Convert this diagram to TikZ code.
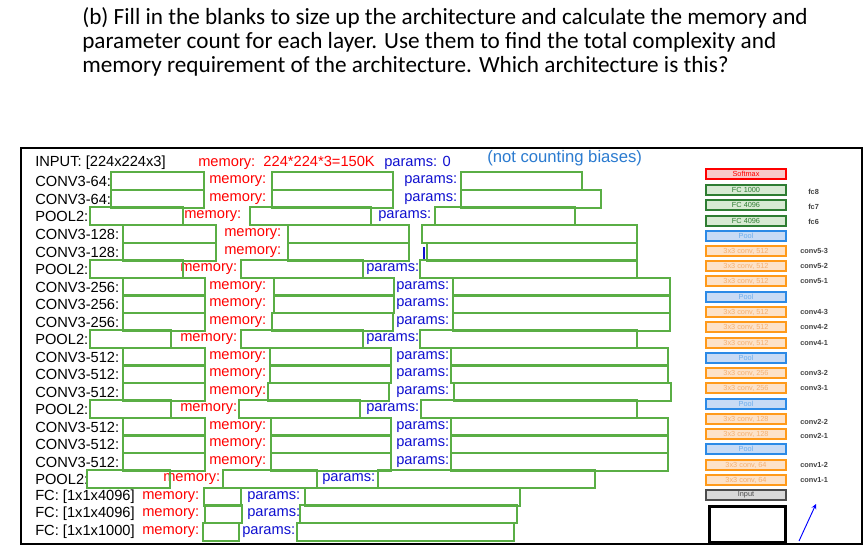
\documentclass[tikz,border=0pt]{standalone}
\usepackage{fontspec}
\setmainfont{Liberation Sans}
\newfontfamily\titlefont{Carlito}
\definecolor{memred}{HTML}{FF0000}
\definecolor{parblue}{HTML}{1010D0}
\definecolor{notblue}{HTML}{2B7BD0}
\definecolor{boxgreen}{HTML}{5AAE45}
\definecolor{convfill}{HTML}{FDE2C8}
\definecolor{convline}{HTML}{FF9A1A}
\definecolor{convtext}{HTML}{F5B070}
\definecolor{poolfill}{HTML}{C8DBF5}
\definecolor{poolline}{HTML}{2C8AE6}
\definecolor{fcfill}{HTML}{D8EAD3}
\definecolor{fcline}{HTML}{2E7D32}
\definecolor{smfill}{HTML}{F8CACA}
\definecolor{inpfill}{HTML}{D9D9D9}
\tikzset{
 lbl/.style={anchor=west,inner sep=0pt,font=\fontsize{11pt}{12pt}\selectfont},
 mem/.style={lbl,text=memred},
 par/.style={lbl,text=parblue},
 blank/.style={draw=boxgreen,line width=0.9pt},
 blk/.style={rectangle,minimum width=60pt,minimum height=8pt,inner sep=0pt,line width=1.3pt,font=\fontsize{5.5pt}{6pt}\selectfont},
 convb/.style={blk,draw=convline,fill=convfill,text=convtext},
 poolb/.style={blk,draw=poolline,fill=poolfill,text=poolline!70},
 fcb/.style={blk,draw=fcline,fill=fcfill,text=fcline},
 smb/.style={blk,draw=red,fill=smfill,text=red},
 inb/.style={blk,draw=black!70,fill=inpfill,text=black!70},
 side/.style={anchor=west,inner sep=0pt,font=\bfseries\fontsize{5.5pt}{6pt}\selectfont,text=black!75}
}
\newcommand{\bx}[3]{\draw[blank] (#1,#3-9) rectangle (#2,#3+9);}
\begin{document}
\begin{tikzpicture}[x=0.75pt,y=-0.75pt]
\useasboundingbox (0,0) rectangle (867,556);
\fill[white] (0,0) rectangle (867,556);
% title
\node[anchor=north west,inner sep=0pt,align=left,font=\titlefont\fontsize{17.4pt}{18pt}\selectfont] (title) at (82,7)
 {(b) Fill in the blanks to size up the architecture and calculate the memory and\\
  parameter count for each layer. Use them to find the total complexity and\\
  memory requirement of the architecture. Which architecture is this?};
% frame
\draw[line width=2.2pt] (21,148) rectangle (862,544);
% row 0
\node[lbl] (t0) at (35,163) {INPUT: [224x224x3]};
\node[mem] (m0) at (198,163) {memory:\ \ 224*224*3=150K};
\node[par] (p0) at (384,163) {params: 0};
\node[lbl,text=notblue,font=\fontsize{12.5pt}{14pt}\selectfont] (nc) at (487,158) {(not counting biases)};
% row 1,2
\foreach \y/\r in {181/601,199/601}{
 \node[lbl] at (35,\y) {CONV3-64:};
 \bx{111}{204}{\y}
 \node[mem] at (209,\y) {memory:};
 \bx{272}{393}{\y}
 \node[par] at (404,\y) {params:};
}
\bx{461}{582}{181}
\bx{461}{601}{199}
% row 3 pool
\node[lbl] (t3) at (35,216) {POOL2:};
\node[mem] (m3) at (184,216) {memory:};
\bx{90}{183}{216}
\bx{250}{371}{216}
\node[par] (p3) at (378,216) {params:};
\bx{435}{575}{216}
% rows 4,5
\foreach \y in {234,252}{
 \node[lbl] at (35,\y) {CONV3-128:};
 \bx{123}{216}{\y}
 \node[mem] at (224,\y) {memory:};
 \bx{288}{409}{\y}
}
\bx{422}{637}{234}
\draw[parblue,line width=1pt] (424,247) -- (424,259);
\bx{427}{637}{252}
% pools
\foreach \y/\mx/\bl/\br/\pb/\pe in {269/180/241/363/420/637,339/180/241/363/420/637,409/180/239/360/421/637}{
 \node[lbl] at (35,\y) {POOL2:};
 \node[mem] at (\mx,\y) {memory:};
 \bx{90}{\ifnum\y=339 171\else\ifnum\y=409 171\else 183\fi\fi}{\y}
 \bx{\bl}{\br}{\y}
 \node[par] at (366,\y) {params:};
 \bx{\pb}{\pe}{\y}
}
% conv 256
\foreach \y/\bl/\br in {287/274/394,304/274/394,322/272/393}{
 \node[lbl] at (35,\y) {CONV3-256:};
 \bx{123}{205}{\y}
 \node[mem] at (209,\y) {memory:};
 \bx{\bl}{\br}{\y}
 \node[par] at (396,\y) {params:};
 \bx{453}{670}{\y}
}
% conv 512
\foreach \y/\bl/\br/\pl/\pr in {357/270/391/451/668,374/270/391/451/668,392/268/389/454/671,427/271/391/451/668,444/271/391/451/668,462/271/391/451/668}{
 \node[lbl] at (35,\y) {CONV3-512:};
 \bx{123}{205}{\y}
 \node[mem] at (209,\y) {memory:};
 \bx{\bl}{\br}{\y}
 \node[par] at (396,\y) {params:};
 \bx{\pl}{\pr}{\y}
}
% last pool
\node[lbl] (t18) at (35,479) {POOL2:};
\node[mem] (m18) at (163,479) {memory:};
\bx{87}{170}{479}
\bx{223}{317}{479}
\node[par] (p18) at (322,479) {params:};
\bx{378}{595}{479}
% FC
\foreach \y/\t/\bl/\br/\pp/\pl/\pr in {497/4096/204/241/247/305/520,514/4096/205/242/247/300/517,532/1000/203/239/242/297/514}{
 \node[lbl] at (35,\y) {FC: [1x1x\t]};
 \node[mem] at (142,\y) {memory:};
 \bx{\bl}{\br}{\y}
 \node[par] at (\pp,\y) {params:};
 \bx{\pl}{\pr}{\y}
}
% right network
\node[smb] (sm) at (746,174) {Softmax};
\node[fcb] (fc8) at (746,190) {FC 1000};
\node[fcb] (fc7) at (746,205) {FC 4096};
\node[fcb] (fc6) at (746,221) {FC 4096};
\node[poolb] (p5) at (746,236) {Pool};
\node[convb] (c53) at (746,251) {3x3 conv, 512};
\node[convb] (c52) at (746,266) {3x3 conv, 512};
\node[convb] (c51) at (746,281) {3x3 conv, 512};
\node[poolb] (p4) at (746,297) {Pool};
\node[convb] (c43) at (746,312) {3x3 conv, 512};
\node[convb] (c42) at (746,327) {3x3 conv, 512};
\node[convb] (c41) at (746,343) {3x3 conv, 512};
\node[poolb] (p3) at (746,358) {Pool};
\node[convb] (c32) at (746,373) {3x3 conv, 256};
\node[convb] (c31) at (746,388) {3x3 conv, 256};
\node[poolb] (p2) at (746,404) {Pool};
\node[convb] (c22) at (746,419) {3x3 conv, 128};
\node[convb] (c21) at (746,434) {3x3 conv, 128};
\node[poolb] (p1) at (746,449) {Pool};
\node[convb] (c12) at (746,465) {3x3 conv, 64};
\node[convb] (c11) at (746,480) {3x3 conv, 64};
\node[inb] (inp) at (746,495) {Input};
\node[side] (l8) at (808,192) {fc8};
\node[side] (l7) at (808,207) {fc7};
\node[side] (l6) at (808,222) {fc6};
\node[side] (l53) at (800,251) {conv5-3};
\node[side] (l52) at (800,266) {conv5-2};
\node[side] (l51) at (800,281) {conv5-1};
\node[side] (l43) at (800,312) {conv4-3};
\node[side] (l42) at (800,327) {conv4-2};
\node[side] (l41) at (800,343) {conv4-1};
\node[side] (l32) at (800,373) {conv3-2};
\node[side] (l31) at (800,388) {conv3-1};
\node[side] (l22) at (800,422) {conv2-2};
\node[side] (l21) at (800,436) {conv2-1};
\node[side] (l12) at (800,465) {conv1-2};
\node[side] (l11) at (800,480) {conv1-1};
\node[draw,line width=1.8pt,minimum width=57pt,minimum height=27pt,inner sep=0pt] (blank) at (747.5,524.5) {};
\coordinate (a0) at (799,541);
\coordinate (a1) at (816,504);
\draw[blue,-stealth,line width=0.7pt] (a0) -- (a1);
\end{tikzpicture}
\end{document}
